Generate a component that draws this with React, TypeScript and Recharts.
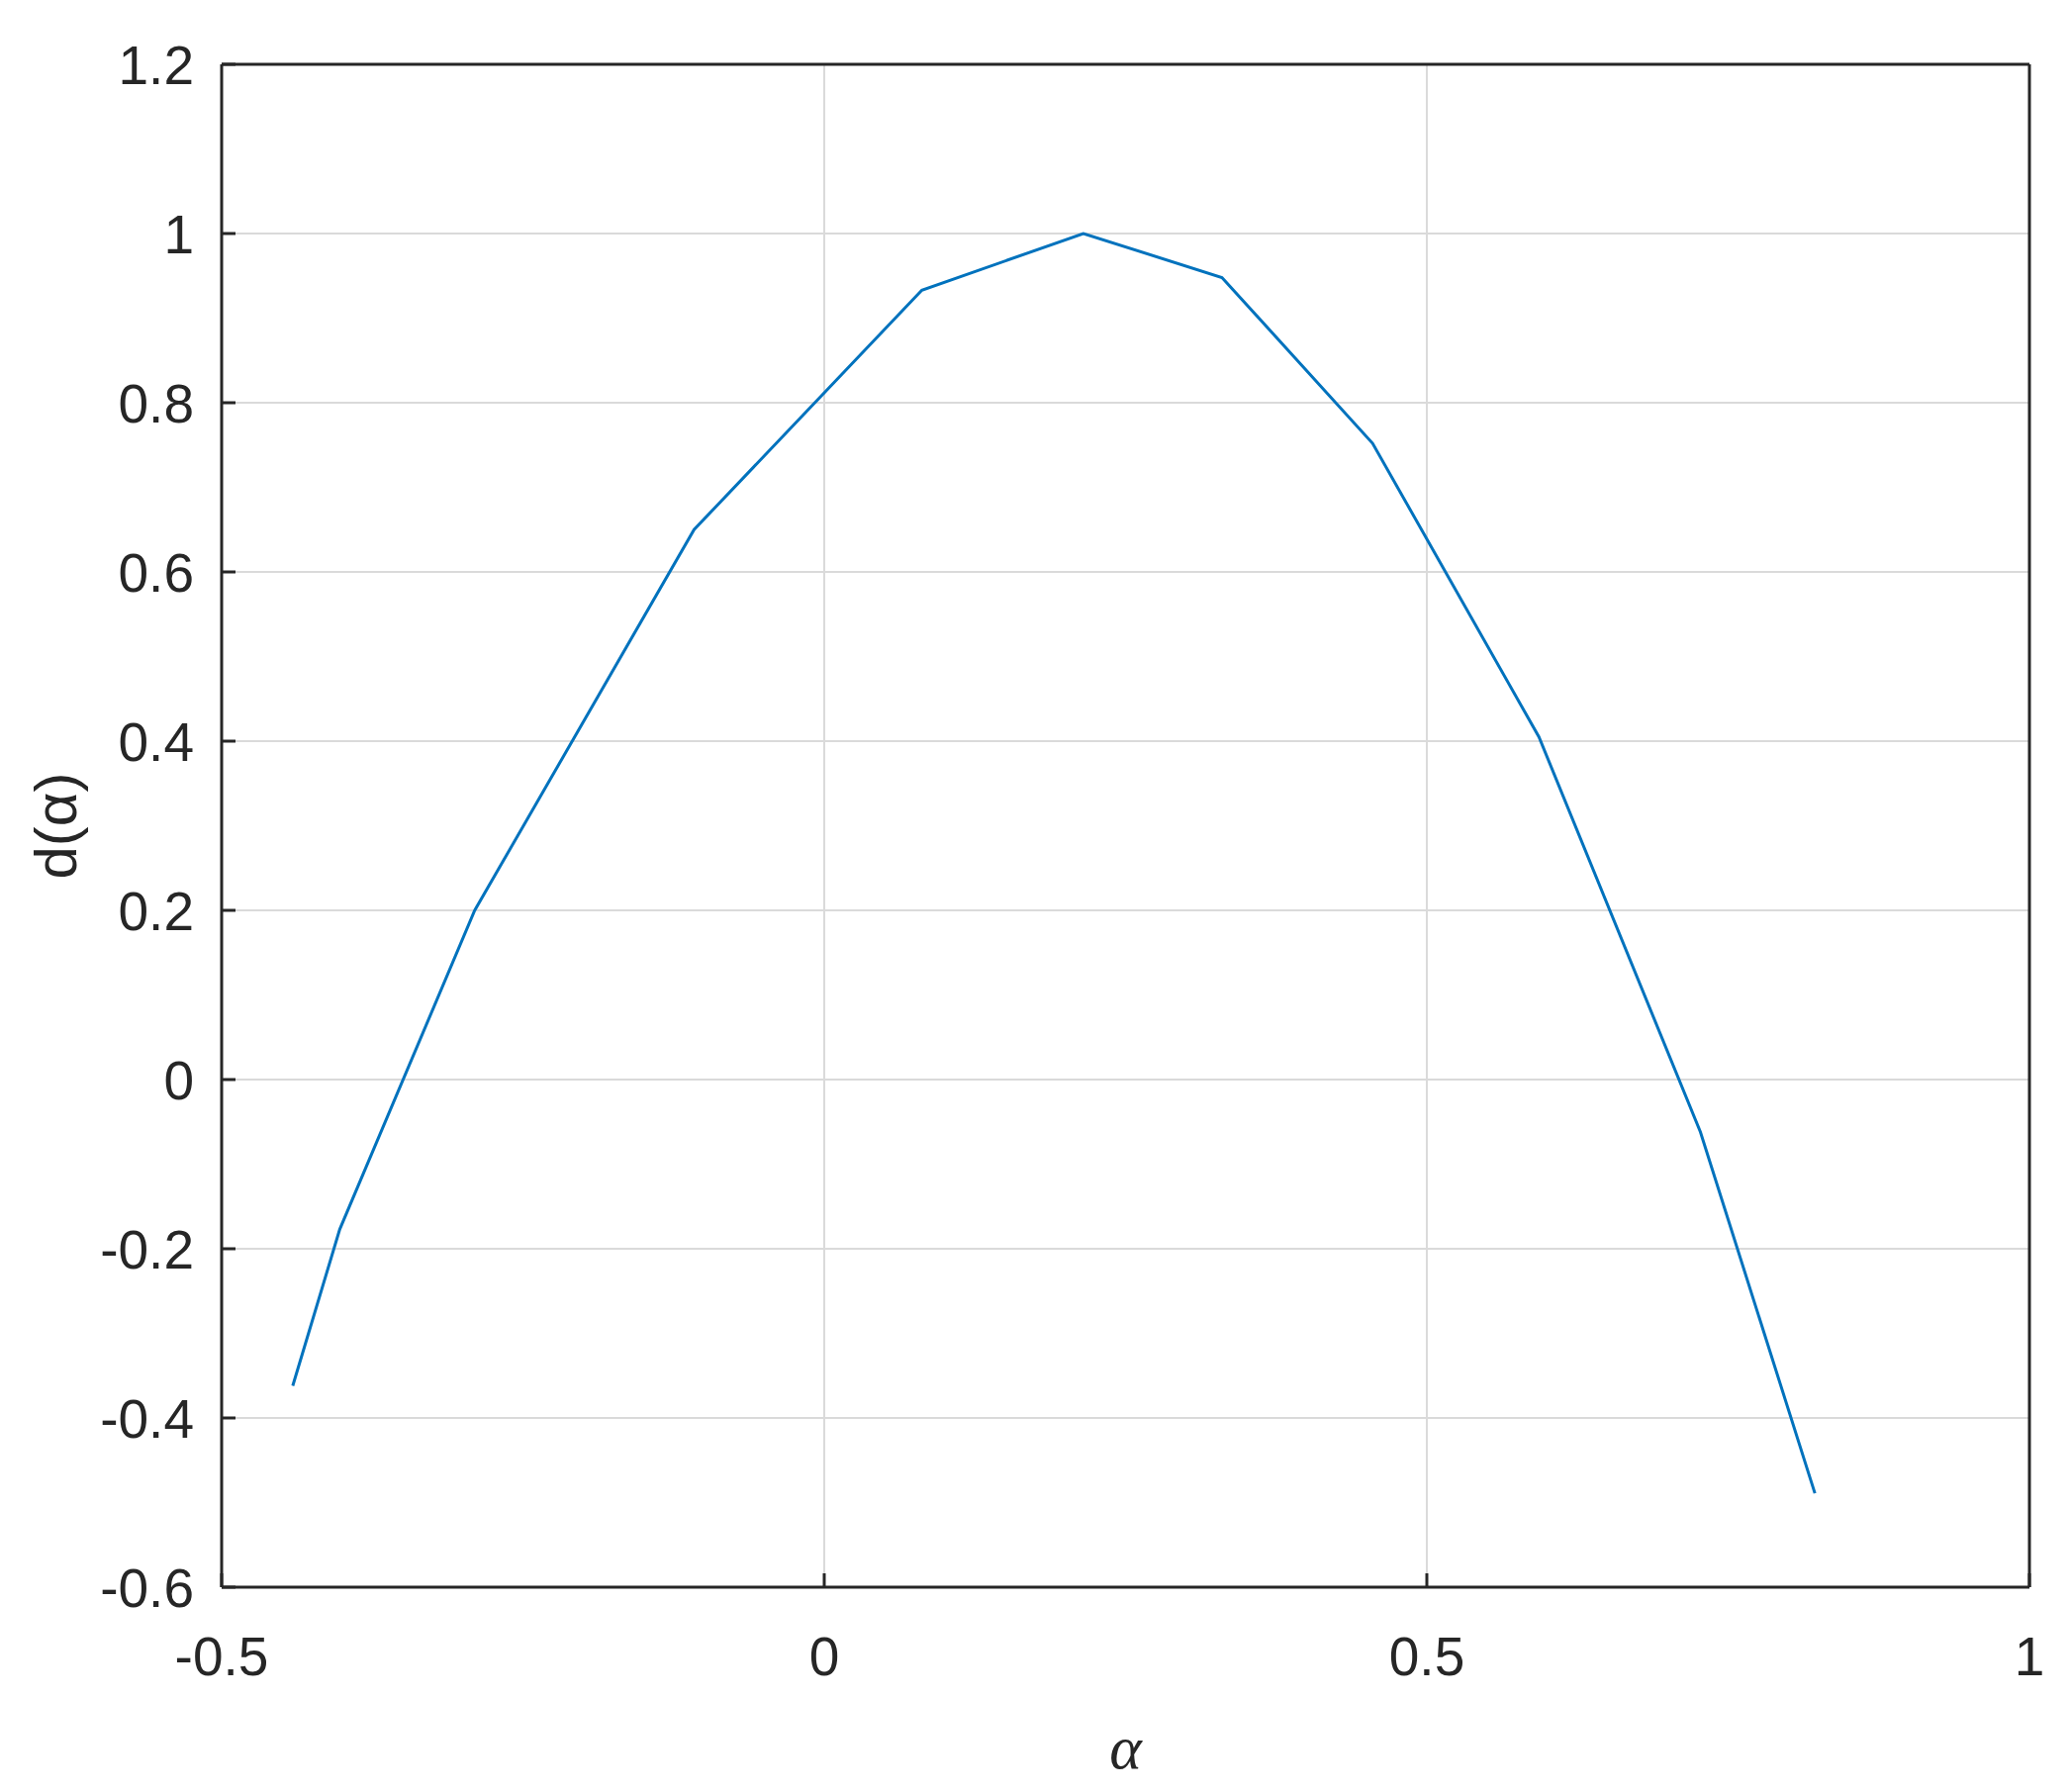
import { LineChart, Line, XAxis, YAxis, CartesianGrid } from "recharts";

// values
const alphaValues = [-0.441, -0.402, -0.29, -0.108, 0.081, 0.215, 0.33, 0.455, 0.593, 0.727, 0.822];
const dValues = [-0.362, -0.177, 0.2, 0.65, 0.933, 1.0, 0.948, 0.752, 0.405, -0.062, -0.489];

const xTicks = [-0.5, 0, 0.5, 1];
const yTicks = [-0.6, -0.4, -0.2, 0, 0.2, 0.4, 0.6, 0.8, 1, 1.2];

const data = alphaValues.map((a, i) => ({ alpha: a, d: dValues[i] }));

const AXIS = "#262626";
const FONT = "'Liberation Sans', Arial, Helvetica, sans-serif";

const tickStyle = { fill: AXIS, fontSize: 55, fontFamily: FONT };

const YLabel = ({ viewBox }: any) => {
  const cy = viewBox.y + viewBox.height / 2;
  return (
    <text
      x={56}
      y={cy}
      dy="0.35em"
      transform={`rotate(-90 56 ${cy})`}
      textAnchor="middle"
      fill={AXIS}
      fontSize={60}
      fontFamily={FONT}
    >
      d(α)
    </text>
  );
};

export default function App() {
  return (
    <div style={{ position: "absolute", left: 0, top: 0, background: "#fff" }}>
      <LineChart
        width={2092}
        height={1811}
        data={data}
        margin={{ top: 64, right: 40, left: 0, bottom: 0 }}
      >
        <CartesianGrid stroke="#dadada" strokeWidth={2} />
        <XAxis
          dataKey="alpha"
          type="number"
          domain={[-0.5, 1]}
          ticks={xTicks}
          interval={0}
          height={207}
          tickSize={-14}
          tickMargin={64}
          tick={tickStyle}
          axisLine={{ stroke: AXIS, strokeWidth: 3 }}
          tickLine={{ stroke: AXIS, strokeWidth: 3 }}
          label={{
            value: "α",
            position: "insideBottom",
            offset: 24,
            fill: AXIS,
            fontSize: 62,
            fontStyle: "italic",
            fontFamily: "'Liberation Serif', 'DejaVu Serif', serif",
          }}
        />
        <XAxis
          xAxisId="top"
          orientation="top"
          dataKey="alpha"
          type="number"
          domain={[-0.5, 1]}
          ticks={xTicks}
          interval={0}
          height={1}
          tickSize={-14}
          tick={false}
          axisLine={{ stroke: AXIS, strokeWidth: 3 }}
          tickLine={{ stroke: AXIS, strokeWidth: 3 }}
        />
        <YAxis
          type="number"
          domain={[-0.6, 1.2]}
          ticks={yTicks}
          interval={0}
          width={224}
          tickSize={-14}
          tickMargin={42}
          tick={tickStyle}
          axisLine={{ stroke: AXIS, strokeWidth: 3 }}
          tickLine={{ stroke: AXIS, strokeWidth: 3 }}
          label={<YLabel />}
        />
        <YAxis
          yAxisId="right"
          orientation="right"
          type="number"
          domain={[-0.6, 1.2]}
          ticks={yTicks}
          interval={0}
          width={1}
          tickSize={-14}
          tick={false}
          axisLine={{ stroke: AXIS, strokeWidth: 3 }}
          tickLine={{ stroke: AXIS, strokeWidth: 3 }}
        />
        <Line
          type="linear"
          dataKey="d"
          stroke="#0072BD"
          strokeWidth={3}
          dot={false}
          isAnimationActive={false}
        />
      </LineChart>
    </div>
  );
}
